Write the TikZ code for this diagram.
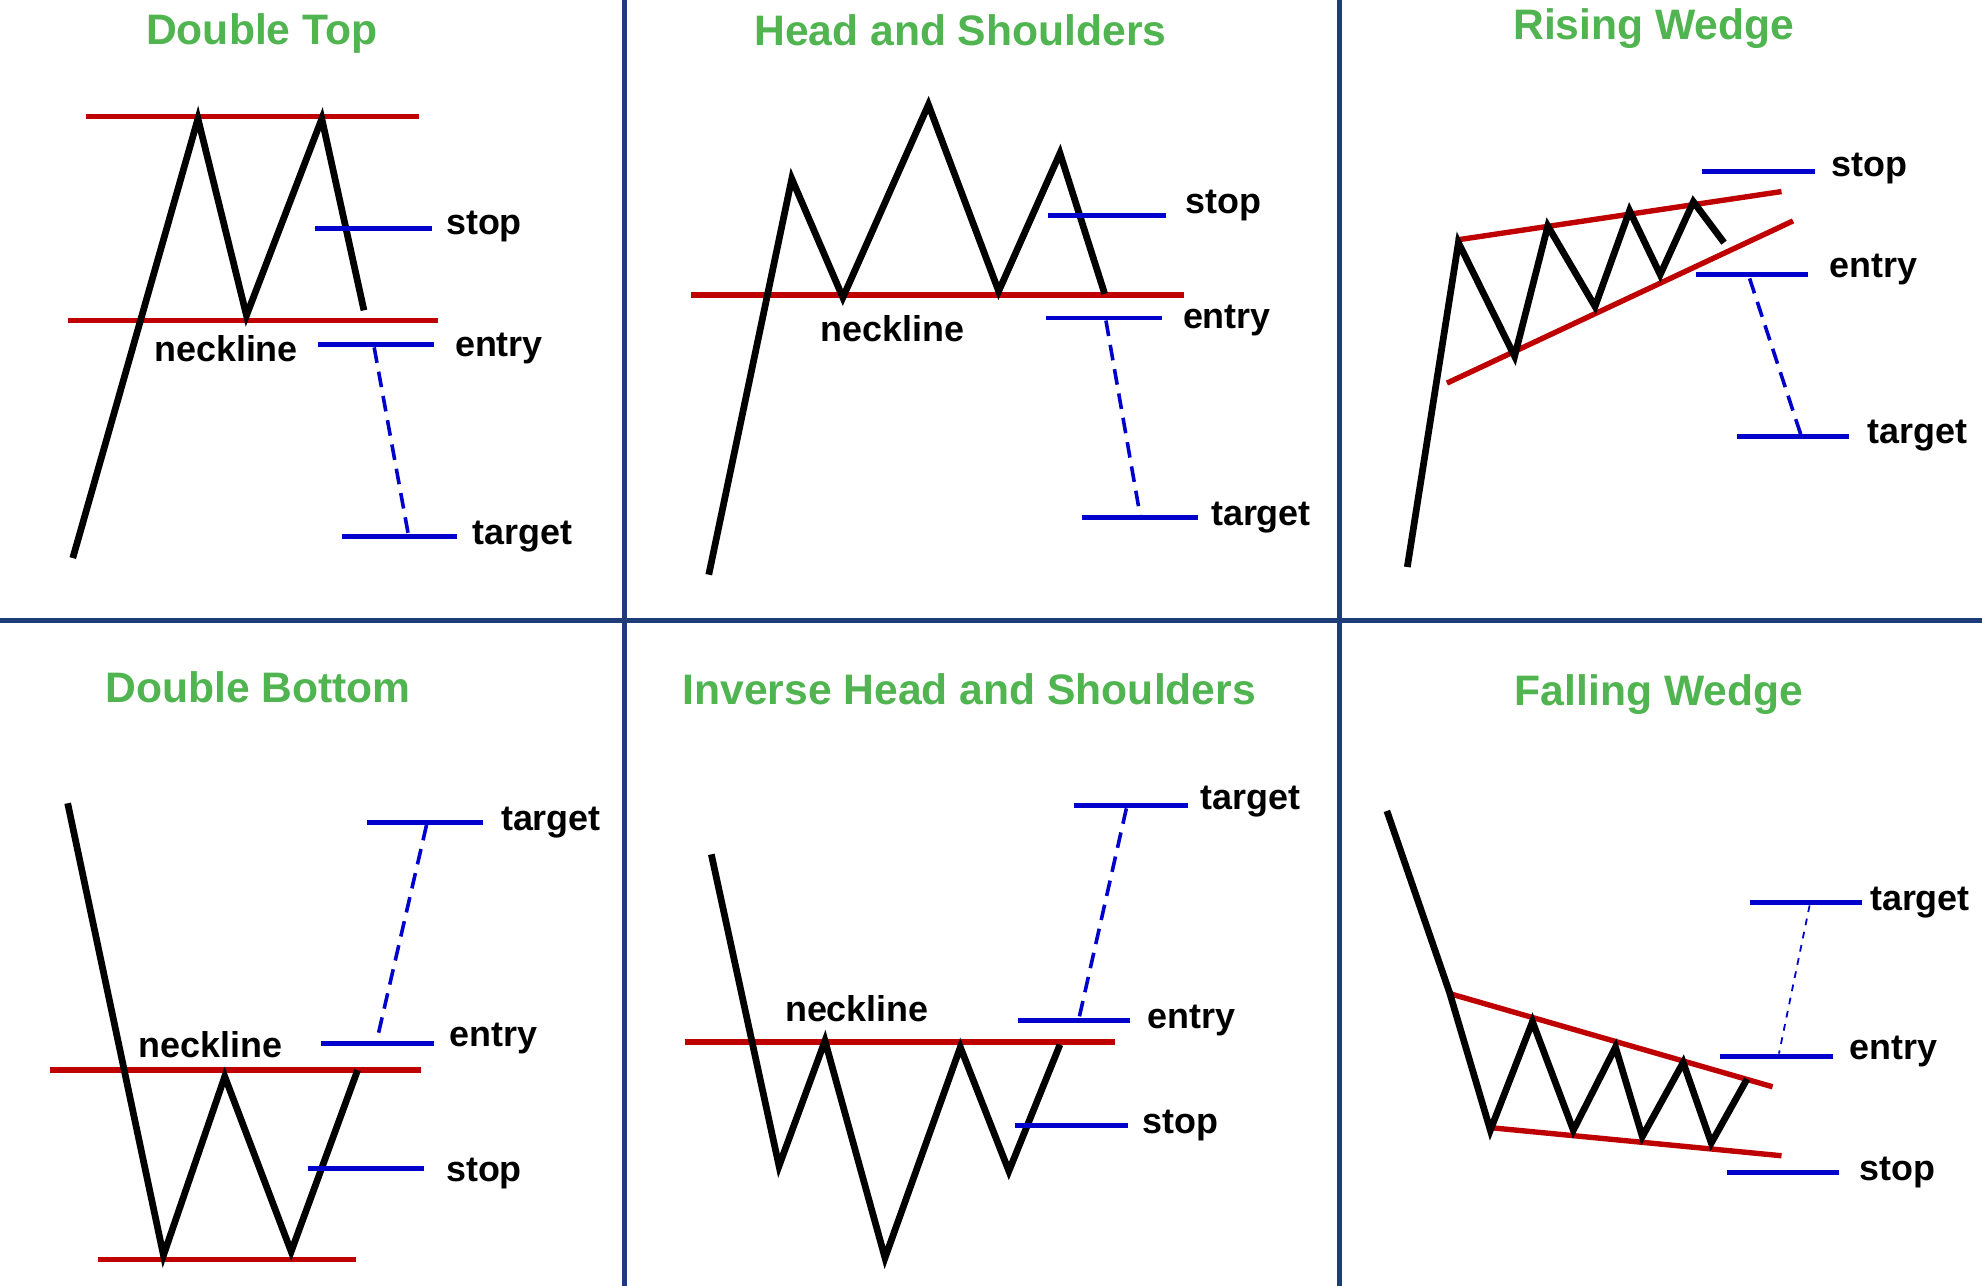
\documentclass[tikz,border=0pt]{standalone}
\usepackage{fontspec}
\setmainfont{Liberation Sans}
\begin{document}
\begin{tikzpicture}[x=0.02cm,y=-0.02cm,
  price/.style={line width=3pt,black,line join=miter},
  redline/.style={line width=2.4pt,red!75!black},
  blueline/.style={line width=2.2pt,blue!80!black},
  tdash/.style={line width=1.6pt,blue!80!black,dash pattern=on 7pt off 4pt},
  lbl/.style={anchor=west,font=\fontsize{16}{18}\selectfont\bfseries,inner sep=0pt},
  lb/.style={font=\fontsize{16}{18}\selectfont\bfseries,inner sep=0pt},
  ttl/.style={font=\fontsize{19}{22}\selectfont\bfseries,text={rgb,255:red,80;green,180;blue,80},inner sep=0pt},
  divider/.style={line width=2.4pt,color={rgb,255:red,30;green,60;blue,120}}]
\useasboundingbox[fill=white] (0,0) rectangle (1552,1007);
\draw[divider] (489,0) -- (489,1007) (1049,0) -- (1049,1007) (0,486) -- (1552,486);
% titles
\node[ttl] (t1) at (205,26) {Double Top};
\node[ttl] (t2) at (752,24) {Head and Shoulders};
\node[ttl] (t3) at (1295,22) {Rising Wedge};
\node[ttl] (t4) at (202,538) {Double Bottom};
\node[ttl] (t5) at (759,540) {Inverse Head and Shoulders};
\node[ttl] (t6) at (1299,544) {Falling Wedge};
% Panel 1
\draw[redline] (67,91)--(328,91) (53,251)--(343,251);
\draw[price] (57,437)--(155,93)--(193,247)--(252,93)--(285,243);
\node[lb] (n1) at (177,273) {neckline};
\draw[blueline] (247,179)--(338,179) (249,270)--(340,270) (268,420)--(358,420);
\draw[tdash] (293,272)--(320,420);
\node[lbl] (s1) at (349,177) {stop};
\node[lbl] (e1) at (356,273) {entry};
\node[lbl] (g1) at (370,420) {target};
% Panel 2
\draw[redline] (541,231)--(927,231);
\draw[price] (555,450)--(620,140)--(660,233)--(727,82)--(782,228)--(830,120)--(865,230);
\node[lb] (n2) at (699,257) {neckline};
\draw[blueline] (821,169)--(913,169) (819,249)--(910,249) (847,405)--(938,405);
\draw[tdash] (866,251)--(893,405);
\node[lbl] (s2) at (928,161) {stop};
\node[lbl] (e2) at (926,251) {entry};
\node[lbl] (g2) at (948,405) {target};
% Panel 3
\draw[redline] (1140,188)--(1395,150) (1133,300)--(1404,173);
\draw[price] (1102,444)--(1142,190)--(1186,279)--(1212,177)--(1249,240)--(1276,165)--(1300,215)--(1326,158)--(1350,190);
\draw[blueline] (1333,134)--(1421,134) (1328,215)--(1416,215) (1360,342)--(1448,342);
\draw[tdash] (1370,218)--(1410,340);
\node[lbl] (s3) at (1434,132) {stop};
\node[lbl] (e3) at (1432,211) {entry};
\node[lbl] (g3) at (1462,341) {target};
% Panel 4
\draw[redline] (39,838)--(330,838) (77,986)--(279,986);
\draw[price] (53,629)--(128,983)--(176,843)--(228,980)--(280,838);
\node[lb] (n4) at (165,818) {neckline};
\draw[blueline] (287,644)--(378,644) (251,817)--(340,817) (241,915)--(332,915);
\draw[tdash] (334,646)--(295,815);
\node[lbl] (g4) at (392,644) {target};
\node[lbl] (e4) at (352,813) {entry};
\node[lbl] (s4) at (349,919) {stop};
% Panel 5
\draw[redline] (536,816)--(873,816);
\draw[price] (557,669)--(610,913)--(646,815)--(693,985)--(752,820)--(790,917)--(830,818);
\node[lb] (n5) at (671,790) {neckline};
\draw[blueline] (841,631)--(930,631) (797,799)--(885,799) (795,881)--(883,881);
\draw[tdash] (882,633)--(845,797);
\node[lbl] (g5) at (940,628) {target};
\node[lbl] (e5) at (898,799) {entry};
\node[lbl] (s5) at (894,881) {stop};
% Panel 6
\draw[redline] (1135,778)--(1388,851) (1167,883)--(1395,905);
\draw[price] (1086,635)--(1135,777)--(1167,885)--(1200,800)--(1232,885)--(1265,820)--(1286,890)--(1318,832)--(1340,895)--(1368,845);
\draw[blueline] (1370,707)--(1458,707) (1347,827)--(1435,827) (1352,918)--(1440,918);
\draw[line width=0.8pt,blue!80!black,dashed] (1417,709)--(1393,825);
\node[lbl] (g6) at (1464,707) {target};
\node[lbl] (e6) at (1448,823) {entry};
\node[lbl] (s6) at (1456,918) {stop};
\end{tikzpicture}
\end{document}
